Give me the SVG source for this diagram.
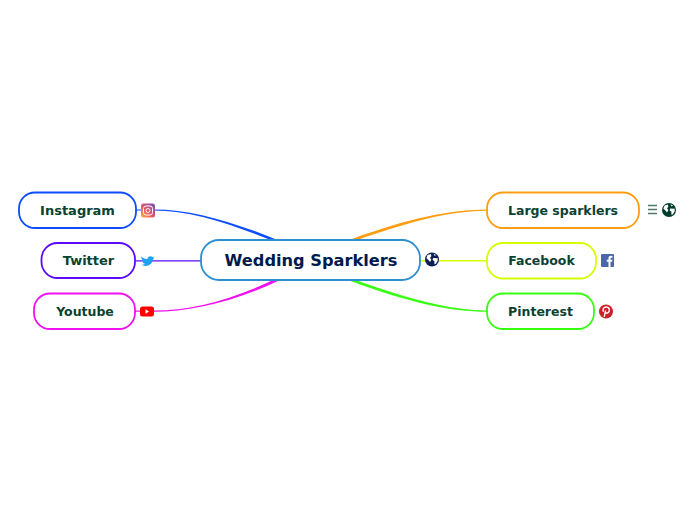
<svg xmlns="http://www.w3.org/2000/svg" width="696" height="520" viewBox="0 0 696 520">
<defs>
<style>
.n{fill:#fff;stroke-width:1.8}
.t{font-family:"DejaVu Sans",sans-serif;font-weight:700;font-size:12.500px;fill:#0a4232;text-anchor:middle}
.w{font-size:13px}
.c{stroke:none}
</style>
<linearGradient id="ig" x1="0" y1="1" x2="1" y2="0"><stop offset="0" stop-color="#fdb23c"/><stop offset=".45" stop-color="#e8506a"/><stop offset="1" stop-color="#6a55b8"/></linearGradient>
<symbol id="globe" viewBox="0 0 14 14" overflow="visible">
<circle cx="7" cy="7" r="7" fill="currentColor"/>
<path d="M2.500 2.500 5.800 1.600 6.400 3.600 5 5.400 6.400 7 5 9.400 3.200 7.200 1.400 5.800ZM8.600 1.200 11 2.400 9.600 3.600ZM8.200 5.600 12.800 5.800 12.600 8.400 10.600 11.400 9.400 11.800 9.400 8.800 7.600 7.600Z" fill="#fff"/>
</symbol>
</defs>
<g id="connectors">
<path class="c" fill="#0b4dff" d="M136 209.400H154C190 209.400 228 220 275 239L272 240.600C228 223 190 210.600 154 210.600H136Z"/>
<path class="c" fill="#5a0bff" d="M136 260.200H201V261.400H136Z"/>
<path class="c" fill="#f010f0" d="M135 310.600H154C190 310.600 232 300 275 279L279 280.600C234 302 190 311.800 154 311.800H135Z"/>
<path class="c" fill="#ff9d12" d="M487 209.600C450 210 410 218 352 239L356 240.400C412 221 450 211 487 210.800Z"/>
<path class="c" fill="#d4ff00" d="M420 260H487V261.400H420Z"/>
<path class="c" fill="#37ff12" d="M487 310.600C450 310 412 300 354 279.500L348 280C410 303 450 311.600 487 311.800Z"/>
</g>
<g id="center">
<rect class="n" x="201" y="240" width="219" height="40" rx="18" stroke="#2b8fd0"/>
<text x="311" y="266" font-family="'DejaVu Sans',sans-serif" font-weight="700" font-size="16.200px" fill="#001a4d" text-anchor="middle">Wedding Sparklers</text>
<use href="#globe" x="425" y="252.500" width="14" height="14" color="#0e1f55"/>
</g>
<g id="instagram">
<rect class="n" x="19" y="192.500" width="117" height="35.500" rx="16" stroke="#0b4dff"/>
<text class="t w" x="77.500" y="215">Instagram</text>
<rect x="141" y="203.500" width="14" height="14" rx="2.500" fill="url(#ig)"/>
<rect x="143.500" y="206" width="9" height="9" rx="2.500" fill="none" stroke="#fff" stroke-width="1"/>
<circle cx="148" cy="210.500" r="2" fill="none" stroke="#fff" stroke-width="1"/>
</g>
<g id="twitter">
<rect class="n" x="41.500" y="243" width="93.500" height="35" rx="16" stroke="#5a0bff"/>
<text class="t w" x="88.500" y="265">Twitter</text>
<path d="M141 256.500C143.500 258.500 145.500 259 147.500 259C147.500 256.500 150.500 255.200 152.500 257L154 256.500 153.200 258.200 154 258C153.500 259 153 259.300 152.800 259.800C152.800 263 149.500 266 145.500 266C144 266 142.500 265.500 141.500 264.800C143 264.800 144 264.500 145 263.800C143.800 263.700 143 263 142.600 262L143.800 262C142.500 261.500 141.800 260.500 141.800 259.300L143 259.600C141.600 258.800 140.900 257.800 141 256.500Z" fill="#1da1f2"/>
</g>
<g id="youtube">
<rect class="n" x="34" y="293.500" width="101" height="35.500" rx="16" stroke="#f010f0"/>
<text class="t" x="85" y="316">Youtube</text>
<rect x="140" y="306.500" width="14" height="10" rx="2.500" fill="#f00"/>
<path d="M145.500 309.300 149 311.500 145.500 313.700Z" fill="#fff"/>
</g>
<g id="large-sparklers">
<rect class="n" x="487" y="192.500" width="152" height="35.500" rx="16" stroke="#ff9d12"/>
<text class="t" x="563" y="215">Large sparklers</text>
<path d="M648 205.500H657M648 209.500H657M648 213.500H657" stroke="#4d7a6c" stroke-width="1.300" fill="none"/>
<use href="#globe" x="662" y="203" width="14" height="14" color="#003c2c"/>
</g>
<g id="facebook">
<rect class="n" x="487" y="243" width="109" height="35.500" rx="16" stroke="#d4ff00"/>
<text class="t" x="541.500" y="265">Facebook</text>
<rect x="601" y="254" width="13" height="13" rx="1" fill="#4c67a9"/>
<path d="M608.500 267V261.800H606.800V259.800H608.500V258.300C608.500 256.600 609.500 255.800 611 255.800L612.500 255.900V257.700H611.500C610.700 257.700 610.500 258.100 610.500 258.700V259.800H612.400L612.100 261.800H610.500V267Z" fill="#fff"/>
</g>
<g id="pinterest">
<rect class="n" x="487" y="293.500" width="107" height="35.500" rx="16" stroke="#37ff12"/>
<text class="t" x="540.500" y="316">Pinterest</text>
<circle cx="606" cy="311.500" r="7" fill="#cb2027"/>
<path d="M604.200 316.800 605.600 310.500M603.500 311.800C602.300 309.500 603.500 307 606.300 307C608.800 307 609.800 309 609.200 311C608.700 313 606.800 313.800 605.500 312.500" fill="none" stroke="#fff" stroke-width="1.400"/>
</g>
</svg>
